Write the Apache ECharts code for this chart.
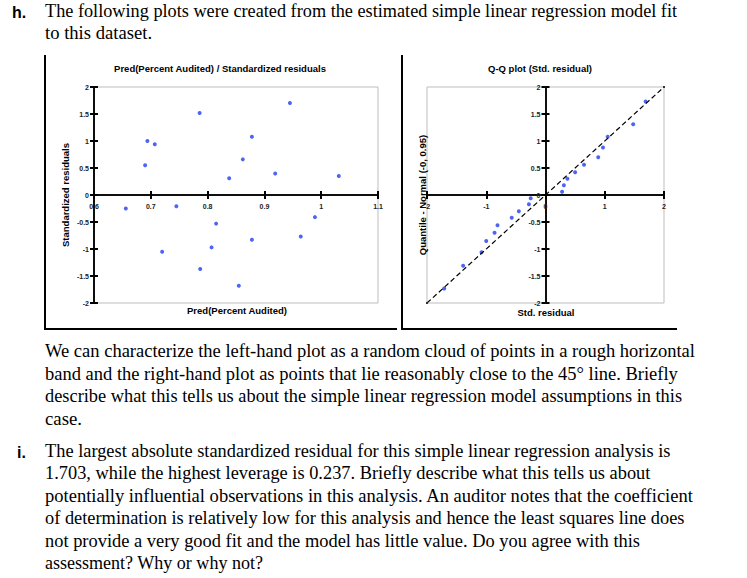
<!DOCTYPE html>
<html>
<head>
<meta charset="utf-8">
<script src="https://cdn.jsdelivr.net/npm/echarts@6/dist/echarts.min.js"></script>
<style>
html,body{margin:0;padding:0;background:#fff;}
#c{width:747px;height:578px;}
</style>
</head>
<body>
<div id="c"></div>
<script>
// ---- Data ----
const predicted = [0.694, 0.707, 0.690, 0.786, 0.878, 0.862, 0.945, 0.838, 0.919, 1.031,
                   0.656, 0.745, 0.815, 0.720, 0.807, 0.787, 0.855, 0.878, 0.964, 0.989];
const stdResid  = [1.00, 0.94, 0.55, 1.52, 1.08, 0.66, 1.703, 0.31, 0.40, 0.35,
                   -0.25, -0.21, -0.53, -1.05, -0.97, -1.37, -1.68, -0.83, -0.77, -0.41];
const qqResid    = [-1.71, -1.39, -1.08, -1.00, -0.86, -0.81, -0.57, -0.45, -0.28, -0.25,
                    0.28, 0.31, 0.37, 0.50, 0.65, 0.89, 0.97, 1.05, 1.48, 1.69];
const qqQuantile = [-1.73, -1.31, -1.06, -0.85, -0.70, -0.56, -0.42, -0.30, -0.17, -0.06,
                    0.06, 0.18, 0.30, 0.42, 0.56, 0.70, 0.88, 1.08, 1.31, 1.73];
const refLine = [[-2, -2], [2, 2]];

const titleLeft = 'Pred(Percent Audited) / Standardized residuals';
const titleRight = 'Q-Q plot (Std. residual)';
const xNameLeft = 'Pred(Percent Audited)';
const yNameLeft = 'Standardized residuals';
const xNameRight = 'Std. residual';
const yNameRight = 'Quantile - Normal (-0, 0.95)';

const headH = ['The following plots were created from the estimated simple linear regression model fit',
               'to this dataset.'];
const paraH = ['We can characterize the left-hand plot as a random cloud of points in a rough horizontal',
               'band and the right-hand plot as points that lie reasonably close to the 45\u00b0 line. Briefly',
               'describe what this tells us about the simple linear regression model assumptions in this',
               'case.'];
const paraI = ['The largest absolute standardized residual for this simple linear regression analysis is',
               '1.703, while the highest leverage is 0.237. Briefly describe what this tells us about',
               'potentially influential observations in this analysis. An auditor notes that the coefficient',
               'of determination is relatively low for this analysis and hence the least squares line does',
               'not provide a very good fit and the model has little value. Do you agree with this',
               'assessment? Why or why not?'];
// right ends of each text line in the reference (layout only)
const endsH = [676.7, 152];
const endsParaH = [694.3, 677.3, 682, 82];
const endsParaI = [670, 650, 693.7, 684, 639.3, 263.3];

// ---- Chart ----
const chart = echarts.init(document.getElementById('c'), null, {renderer: 'svg'});
const SANS = 'Liberation Sans, Arial, sans-serif';
const SERIF = '"Liberation Serif", "Times New Roman", serif';
const BLUE = '#1f3ff0';
const tickLbl = {fontSize: 7, fontFamily: SANS, fontWeight: 'bold', color: '#222'};
const FS = 18.3;
const ctx = document.createElement('canvas').getContext('2d');
ctx.font = FS + 'px ' + SERIF;

function xAx(grid, min, max, interval, inside, offset) {
  return {
    type: 'value', gridIndex: grid, min: min, max: max, interval: interval,
    position: 'bottom', offset: offset,
    axisLine: {show: true, onZero: false, lineStyle: {color: '#000', width: 1.5}},
    axisTick: {show: true, inside: inside, length: 4, lineStyle: {color: '#000', width: 2}},
    axisLabel: inside ? {show: false} : Object.assign({margin: 8}, tickLbl),
    splitLine: {show: false}
  };
}
function yAx(grid, inside, offset) {
  return {
    type: 'value', gridIndex: grid, min: -2, max: 2, interval: 0.5,
    position: 'left', offset: offset,
    axisLine: {show: true, onZero: false, lineStyle: {color: '#000', width: 1.5}},
    axisTick: {show: true, inside: inside, length: 4, lineStyle: {color: '#000', width: 2}},
    axisLabel: inside ? {show: false} : Object.assign({margin: 5}, tickLbl),
    splitLine: {show: false}
  };
}

function lines(arr, ends, x, y0, dy) {
  return arr.map((t, i) => {
    const w = ctx.measureText(t).width;
    const s = w > 0 ? (ends[i] - x) / w : 1;
    return {
      type: 'text', x: x, y: y0 + i * dy, scaleX: s,
      style: {text: t, fill: '#000', font: FS + 'px ' + SERIF, align: 'left', verticalAlign: 'top'}
    };
  });
}

const graphics = [].concat(
  [{type: 'text', x: 12, y: 4, style: {text: 'h.', fill: '#000', font: 'bold 16px ' + SANS, verticalAlign: 'top'}}],
  lines(headH, endsH, 45, 2, 22.5),
  lines(paraH, endsParaH, 45, 342.5, 22.3),
  [{type: 'text', x: 17, y: 444, style: {text: 'i.', fill: '#000', font: 'bold 16px ' + SANS, verticalAlign: 'top'}}],
  lines(paraI, endsParaI, 45, 442, 22.4),
  [
    // panel frame lines (L-shaped)
    {type: 'line', shape: {x1: 45, y1: 55, x2: 45, y2: 329}, style: {stroke: '#000', lineWidth: 2}},
    {type: 'line', shape: {x1: 44, y1: 329, x2: 397, y2: 329}, style: {stroke: '#000', lineWidth: 2}},
    {type: 'line', shape: {x1: 402, y1: 55, x2: 402, y2: 329}, style: {stroke: '#000', lineWidth: 2}},
    {type: 'line', shape: {x1: 401, y1: 329, x2: 677, y2: 329}, style: {stroke: '#000', lineWidth: 2}},
    // titles and axis names
    {type: 'text', x: 220, y: 68, style: {text: titleLeft, fill: '#000', font: 'bold 9.5px ' + SANS, align: 'center', verticalAlign: 'middle'}},
    {type: 'text', x: 540, y: 68, style: {text: titleRight, fill: '#000', font: 'bold 9.5px ' + SANS, align: 'center', verticalAlign: 'middle'}},
    {type: 'text', x: 237, y: 310, style: {text: xNameLeft, fill: '#000', font: 'bold 9.5px ' + SANS, align: 'center', verticalAlign: 'middle'}},
    {type: 'text', x: 546, y: 312.5, style: {text: xNameRight, fill: '#000', font: 'bold 9.5px ' + SANS, align: 'center', verticalAlign: 'middle'}},
    {type: 'text', x: 65, y: 195, rotation: Math.PI / 2, style: {text: yNameLeft, fill: '#000', font: 'bold 9.5px ' + SANS, align: 'center', verticalAlign: 'middle'}},
    {type: 'text', x: 422, y: 195, rotation: Math.PI / 2, style: {text: yNameRight, fill: '#000', font: 'bold 9.5px ' + SANS, align: 'center', verticalAlign: 'middle'}}
  ]
);

chart.setOption({
  animation: false,
  backgroundColor: '#fff',
  grid: [
    {left: 94, top: 87, width: 284, height: 216, show: true, borderColor: '#bdbdbd', borderWidth: 1, containLabel: false},
    {left: 427, top: 87, width: 237, height: 216, show: true, borderColor: '#bdbdbd', borderWidth: 1, containLabel: false}
  ],
  xAxis: [
    xAx(0, 0.6, 1.1, 0.1, false, -108),
    xAx(0, 0.6, 1.1, 0.1, true, -108),
    xAx(1, -2, 2, 1, false, -108),
    xAx(1, -2, 2, 1, true, -108)
  ],
  yAxis: [
    yAx(0, false, 0),
    yAx(0, true, 0),
    yAx(1, false, -118.5),
    yAx(1, true, -118.5)
  ],
  series: [
    {
      type: 'scatter', xAxisIndex: 0, yAxisIndex: 0,
      data: predicted.map((p, i) => [p, stdResid[i]]),
      symbol: 'circle', symbolSize: 4, itemStyle: {color: BLUE}
    },
    {
      type: 'line', xAxisIndex: 2, yAxisIndex: 2, data: refLine,
      showSymbol: true, symbol: 'rect', symbolSize: 2,
      itemStyle: {color: '#333'},
      lineStyle: {color: '#000', width: 1.2, type: [5, 3]}
    },
    {
      type: 'scatter', xAxisIndex: 2, yAxisIndex: 2,
      data: qqResid.map((r, i) => [r, qqQuantile[i]]),
      symbol: 'circle', symbolSize: 4, itemStyle: {color: BLUE}
    }
  ],
  graphic: graphics
});
</script>
</body>
</html>
